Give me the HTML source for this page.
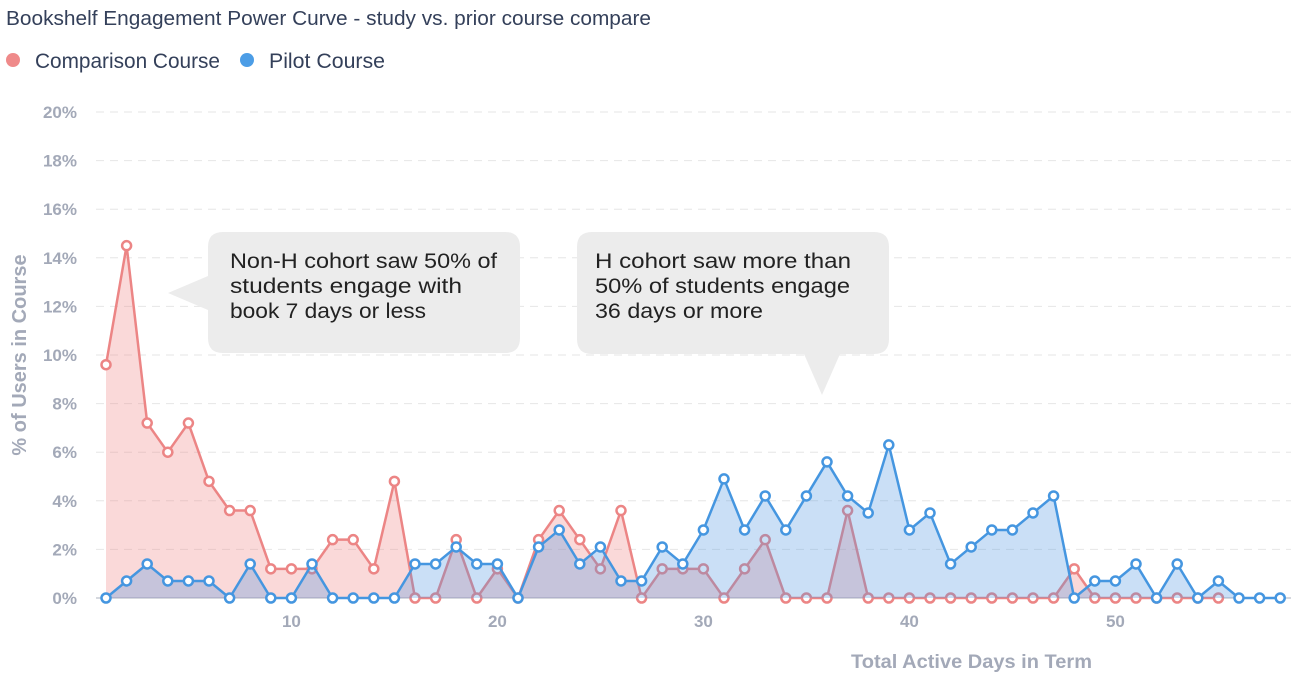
<!DOCTYPE html>
<html><head><meta charset="utf-8"><style>
body{margin:0;background:#fff;font-family:"Liberation Sans",sans-serif;}
svg text{font-family:"Liberation Sans",sans-serif;}
</style></head><body>
<svg id="chart" width="1291" height="680">
<text x="6" y="25" font-size="20" fill="#34405a" textLength="645" lengthAdjust="spacingAndGlyphs">Bookshelf Engagement Power Curve - study vs. prior course compare</text>
<g>
<g><circle cx="13" cy="60" r="7" fill="#ef8a8a"/><text x="35" y="68" font-size="21" fill="#34405a" textLength="185" lengthAdjust="spacingAndGlyphs">Comparison Course</text></g>
<g><circle cx="247" cy="60" r="7" fill="#4c9de6"/><text x="269" y="68" font-size="21" fill="#34405a" textLength="116" lengthAdjust="spacingAndGlyphs">Pilot Course</text></g>
</g>
<g id="grid"></g><g id="yticks"></g><g id="xticks"></g>
<g id="series"></g>
<text transform="translate(26,355) rotate(-90)" text-anchor="middle" font-size="20" font-weight="bold" fill="#a3a9b8">% of Users in Course</text>
<text x="851" y="668" font-size="19" font-weight="bold" fill="#a3a9b8" textLength="241" lengthAdjust="spacingAndGlyphs">Total Active Days in Term</text>
<g>
<path d="M223,232 H505 Q520,232 520,247 V338 Q520,353 505,353 H223 Q208,353 208,338 V310 L168,293 L208,276 V247 Q208,232 223,232 Z" fill="#ececec"/>
<text font-size="21" fill="#222"><tspan x="230" y="268" textLength="267" lengthAdjust="spacingAndGlyphs">Non-H cohort saw 50% of</tspan><tspan x="230" y="293" textLength="232" lengthAdjust="spacingAndGlyphs">students engage with</tspan><tspan x="230" y="318" textLength="196" lengthAdjust="spacingAndGlyphs">book 7 days or less</tspan></text>
</g>
<g>
<path d="M592,232 H874 Q889,232 889,247 V339 Q889,354 874,354 H840 L822,395 L804,354 H592 Q577,354 577,339 V247 Q577,232 592,232 Z" fill="#ececec"/>
<text font-size="21" fill="#222"><tspan x="595" y="268" textLength="256" lengthAdjust="spacingAndGlyphs">H cohort saw more than</tspan><tspan x="595" y="293" textLength="255" lengthAdjust="spacingAndGlyphs">50% of students engage</tspan><tspan x="595" y="318" textLength="168" lengthAdjust="spacingAndGlyphs">36 days or more</tspan></text>
</g>
</svg>
<script>
const days = Array.from({length:58},(_, i)=>i+1);
const comparison = [9.6,14.5,7.2,6.0,7.2,4.8,3.6,3.6,1.2,1.2,1.2,2.4,2.4,1.2,4.8,0,0,2.4,0,1.2,0,2.4,3.6,2.4,1.2,3.6,0,1.2,1.2,1.2,0,1.2,2.4,0,0,0,3.6,0,0,0,0,0,0,0,0,0,0,1.2,0,0,0,0,0,0,0];
const pilot = [0,0.7,1.4,0.7,0.7,0.7,0,1.4,0,0,1.4,0,0,0,0,1.4,1.4,2.1,1.4,1.4,0,2.1,2.8,1.4,2.1,0.7,0.7,2.1,1.4,2.8,4.9,2.8,4.2,2.8,4.2,5.6,4.2,3.5,6.3,2.8,3.5,1.4,2.1,2.8,2.8,3.5,4.2,0,0.7,0.7,1.4,0,1.4,0,0.7,0,0,0];
const yTicks = [0,2,4,6,8,10,12,14,16,18,20];
const xTicks = [10,20,30,40,50];
const NS="http://www.w3.org/2000/svg";
const X = d => 106 + (d-1)*20.6;
const Y = v => 598 - v*24.3;
function mk(tag, attrs, parent){const e=document.createElementNS(NS,tag);for(const k in attrs)e.setAttribute(k,attrs[k]);parent.appendChild(e);return e;}
const grid=document.getElementById('grid'), yt=document.getElementById('yticks'), xt=document.getElementById('xticks'), ser=document.getElementById('series');
yTicks.forEach(t=>{
  const l=mk('line',{x1:96,x2:1291,y1:Y(t),y2:Y(t),stroke:t===0?'#d5d8de':'#e6e6e6','stroke-width':t===0?2:1,'stroke-dasharray':t===0?'':'8,6'},grid);
  
  
  const tx=mk('text',{x:77,y:Y(t)+6,'text-anchor':'end','font-size':17,'font-weight':'bold',fill:'#a3a9b8'},yt);
  tx.textContent=t+'%';
  
  
});
xTicks.forEach(t=>{
  const tx=mk('text',{x:X(t),y:627,'text-anchor':'middle','font-size':17,'font-weight':'bold',fill:'#a3a9b8'},xt);
  tx.textContent=t;
  
  
});
function draw(vals,color,fill,name){
  const g=mk('g',{},ser);
  
  
  const pts=vals.map((v,i)=>X(days[i])+','+Y(v));
  const a=mk('path',{d:'M'+X(days[0])+','+Y(0)+' L'+pts.join(' L')+' L'+X(days[vals.length-1])+','+Y(0)+' Z',fill:fill},g);
  
  
  const p=mk('polyline',{points:pts.join(' '),fill:'none',stroke:color,'stroke-width':2.5},g);
  
  
  vals.forEach((v,i)=>{
    const c=mk('circle',{cx:X(days[i]),cy:Y(v),r:4.5,fill:'#fff',stroke:color,'stroke-width':2.5},g);
    
    
  });
}
draw(comparison,'#ec8585','rgba(240,130,130,0.3)','comparison-series');
draw(pilot,'#4596e0','rgba(80,150,225,0.3)','pilot-series');
</script>
</body></html>
